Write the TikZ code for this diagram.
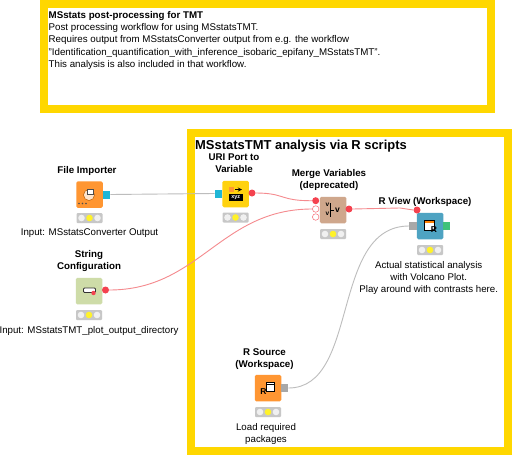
\documentclass[tikz,border=0pt]{standalone}
\usepackage{fontspec}
\setmainfont{Liberation Sans}
\definecolor{frameY}{HTML}{FFD700}
\definecolor{portCy}{HTML}{1FB6D6}
\definecolor{portGy}{HTML}{A8A8A8}
\definecolor{portRd}{HTML}{F4424F}
\definecolor{portGn}{HTML}{3FC27A}
\definecolor{linkRd}{HTML}{F58A8E}
\definecolor{linkGy}{HTML}{BDBDBD}
\definecolor{orangeN}{HTML}{FF9632}
\definecolor{goldN}{HTML}{FFD20F}
\definecolor{tanN}{HTML}{CFA78C}
\definecolor{greenN}{HTML}{CEDCA8}
\definecolor{blueN}{HTML}{4EA3C2}
\definecolor{lampY}{HTML}{FFF22A}
\tikzset{
  x=1pt,y=-1pt,
  nodebox/.style={rounded corners=1.5pt,minimum size=26.5pt,inner sep=0pt,draw=none},
  nametext/.style={font=\fontsize{9.75}{12}\selectfont\bfseries,align=center,inner sep=0pt},
  notetext/.style={font=\fontsize{9.7}{12}\selectfont,align=center,inner sep=0pt},
  cyport/.style={fill=portCy,draw=none,minimum width=7.5pt,minimum height=8pt,inner sep=0pt},
  gyport/.style={fill=portGy,draw=none,minimum width=7.5pt,minimum height=8pt,inner sep=0pt},
  gnport/.style={fill=portGn,draw=none,minimum width=7.5pt,minimum height=8pt,inner sep=0pt},
  rdport/.style={circle,fill=portRd,draw=none,minimum size=7pt,inner sep=0pt},
  opport/.style={circle,fill=white,draw=portRd!80,line width=.5pt,minimum size=6.5pt,inner sep=0pt},
  redlink/.style={draw=linkRd,line width=.9pt},
  graylink/.style={draw=linkGy,line width=.9pt},
  lamp/.style={rounded corners=1pt,fill=black!22,draw=none,minimum width=26pt,minimum height=10pt,inner sep=0pt}
}
\newcommand{\lights}[2]{%
  \node[lamp] at (#1,#2) {};
  \fill[black!6] (#1-8,#2) circle (3.3pt);
  \fill[lampY] (#1,#2) circle (3.3pt);
  \fill[black!6] (#1+8,#2) circle (3.3pt);
}
\begin{document}
\begin{tikzpicture}
\useasboundingbox (0,0) rectangle (512,455);
\fill[white] (0,0) rectangle (512,455);
% annotation frames
\fill[frameY] (40,0) rectangle (495,113);
\fill[white] (48,8) rectangle (487,105);
\fill[frameY] (187,129) rectangle (512,455);
\fill[white] (195,137) rectangle (504,447);
\node[anchor=north west,inner sep=0pt,font=\fontsize{9.75}{12.3}\selectfont,align=left] (note1) at (48.5,11) {{\bfseries MSstats post-processing for TMT}\\Post processing workflow for using MSstatsTMT.\\Requires output from MSstatsConverter output from e.g. the workflow\\"Identification\_quantification\_with\_inference\_isobaric\_epifany\_MSstatsTMT".\\This analysis is also included in that workflow.};
\node[anchor=north west,inner sep=0pt,font=\fontsize{12.95}{15}\selectfont\bfseries] (note2) at (195,140) {MSstatsTMT analysis via R scripts};
% node bodies
\node[nodebox,fill=orangeN] (fi) at (89.5,194.5) {};
\node[nodebox,fill=goldN] (uri) at (235.5,194) {};
\node[nodebox,fill=tanN] (mv) at (333,210) {};
\node[nodebox,fill=greenN] (sc) at (89,291) {};
\node[nodebox,fill=blueN] (rv) at (430,226) {};
\node[nodebox,fill=orangeN] (rs) at (268,388) {};
% ports
\node[cyport] (fiout) at (106.5,194.5) {};
\node[cyport] (uriin) at (218.5,193.5) {};
\node[rdport] (uriout) at (252,193) {};
\node[rdport] (mvin1) at (315.7,200.7) {};
\node[opport] (mvin2) at (315.7,209) {};
\node[opport] (mvin3) at (315.7,217) {};
\node[rdport] (mvout) at (349,209) {};
\node[rdport] (scout) at (105.5,290) {};
\node[rdport] (rvtop) at (417,210) {};
\node[gyport] (rvin) at (413,226) {};
\node[gnport] (rvout) at (446.5,226) {};
\node[gyport] (rsout) at (284.5,388) {};
% connectors
\draw[graylink] (fiout.east) -- (uriin.west);
\draw[redlink] (uriout.east) .. controls (285,193) and (280,201) .. (mvin1.west);
\draw[redlink] (scout.east) .. controls (200,290) and (220,209) .. (mvin2.west);
\draw[redlink] (mvout.east) -- (400,208) -- (rvtop.west);
\draw[graylink] (rsout.east) .. controls (360,388) and (330,226) .. (rvin.west);
% icons
\begin{scope}
 \fill[white!80!orange] (89,195) circle (5.5pt);
 \draw[orange!70!black,line width=.5pt] (89,195) circle (5.5pt);
 \fill[white] (87,189.5) rectangle (93,194.5);
 \draw[black!70,line width=.4pt] (87,189.5) rectangle (93,194.5);
 \fill[black!70] (79,203.5) circle (.8pt) (82.5,203.5) circle (.8pt) (86,203.5) circle (.8pt);
\end{scope}
\begin{scope}
 \fill[orangeN] (229,187) rectangle (234,192);
 \draw[black,-stealth,line width=.9pt] (235,189.5) -- (242,189.5);
 \fill[black] (228.5,193.5) rectangle (243,201);
 \node[font=\fontsize{5.5}{5}\selectfont\bfseries,text=white,inner sep=0pt] (xyz) at (235.7,197.2) {xyz};
\end{scope}
\begin{scope}
 \node[font=\fontsize{6.5}{6}\selectfont\bfseries,inner sep=0pt] (vv1) at (327.5,205) {v};
 \node[font=\fontsize{6.5}{6}\selectfont\bfseries,inner sep=0pt] (vv2) at (327.5,213.5) {v};
 \node[font=\fontsize{8.5}{6}\selectfont\bfseries,inner sep=0pt] (vv3) at (337.5,210) {v};
 \draw[black,line width=.6pt] (329.5,203.5) -- (330.5,203.5) -- (330.5,216) -- (329.5,216) (330.5,210) -- (334,210);
\end{scope}
\begin{scope}
 \draw[black!80,rounded corners=1pt,line width=.8pt,fill=white] (83.5,288) rectangle (95.5,292.5);
 \fill[portRd] (93.5,293) circle (2.2pt);
\end{scope}
\begin{scope}
 \fill[white] (424,220) rectangle (434,230);
 \fill[orange] (424,220) rectangle (434,222.5);
 \draw[black,line width=.5pt] (424,220) rectangle (434,230);
 \node[font=\fontsize{8.5}{8}\selectfont\bfseries,inner sep=0pt] (rvR) at (434,230) {R};
\end{scope}
\begin{scope}
 \fill[white] (266,382) rectangle (274.5,391);
 \draw[black,line width=.5pt] (266,382) rectangle (274.5,391) (266,384.5) -- (274.5,384.5);
 \node[font=\fontsize{8.5}{8}\selectfont\bfseries,inner sep=0pt] (rsR) at (263.5,392) {R};
\end{scope}
% status lights
\lights{89.5}{218}
\lights{235.5}{217.5}
\lights{333}{234}
\lights{89}{315}
\lights{430}{250}
\lights{268}{412}
% names
\node[nametext] (tfi) at (87,171) {File Importer};
\node[nametext] (turi) at (234,163.5) {URI Port to\\Variable};
\node[nametext] (tmv) at (329,179.7) {Merge Variables\\(deprecated)};
\node[nametext] (tsc) at (89,261) {String\\Configuration};
\node[nametext] (trv) at (425,201.7) {R View (Workspace)};
\node[nametext] (trs) at (264.5,359) {R Source\\(Workspace)};
% notes
\node[notetext] (nfi) at (89.5,233.5) {Input: MSstatsConverter Output};
\node[notetext] (nsc) at (89,331) {Input: MSstatsTMT\_plot\_output\_directory};
\node[notetext] (nrv) at (428.7,278) {Actual statistical analysis\\with Volcano Plot.\\Play around with contrasts here.};
\node[notetext] (nrs) at (266,434) {Load required\\packages};
\end{tikzpicture}
\end{document}
